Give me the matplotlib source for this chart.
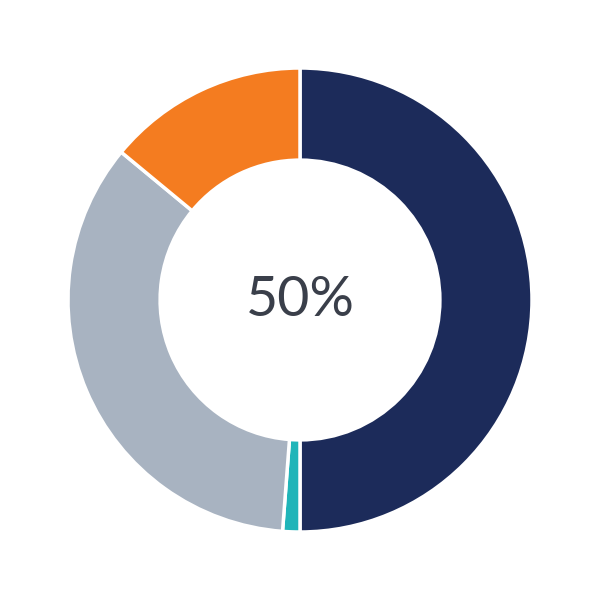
import matplotlib.pyplot as plt

plt.rcParams.update({
    "font.family": ["Lato", "DejaVu Sans"],
})

labels = ["Navy", "Teal", "Gray", "Orange"]
values = [50, 1.2, 34.8, 14]
colors = ["#1c2b5a", "#1fb5b9", "#a8b3c1", "#f47c20"]
center_label = "50%"

fig = plt.figure(figsize=(6, 6), dpi=100)
ax = fig.add_axes([0, 0, 1, 1])

ax.pie(values, colors=colors, startangle=90, counterclock=False,
       radius=1.0,
       wedgeprops=dict(width=0.397, edgecolor="white", linewidth=2.5))

ax.text(0, 0, center_label, ha="center", va="center",
        fontsize=40, color="#3a3f4a")

lim = 300 / 232
ax.set_xlim(-lim, lim)
ax.set_ylim(-lim, lim)
ax.set_aspect("equal")
ax.axis("off")

fig.savefig("out.png", dpi=100, facecolor="white")
